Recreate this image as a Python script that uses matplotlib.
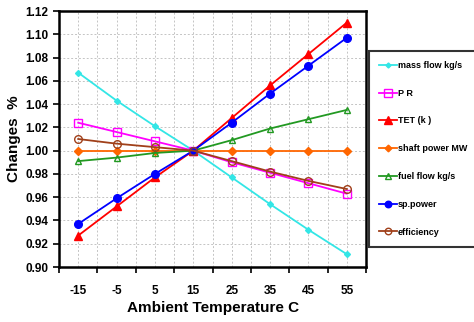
import matplotlib
matplotlib.use("Agg")
import matplotlib.pyplot as plt
from matplotlib.ticker import FixedLocator, NullFormatter

plt.rcParams['font.family'] = ['Liberation Sans', 'DejaVu Sans']
plt.rcParams['font.weight'] = 'bold'

temps = ["-15", "-5", "5", "15", "25", "35", "45", "55"]
mass_flow = [1.067, 1.043, 1.021, 1.000, 0.977, 0.954, 0.932, 0.911]
pr = [1.024, 1.016, 1.008, 1.000, 0.990, 0.981, 0.972, 0.963]
tet = [0.927, 0.952, 0.977, 1.000, 1.028, 1.056, 1.083, 1.110]
shaft_power = [1.000, 1.000, 1.000, 1.000, 1.000, 1.000, 1.000, 1.000]
fuel_flow = [0.991, 0.994, 0.998, 1.000, 1.009, 1.019, 1.027, 1.035]
sp_power = [0.937, 0.959, 0.980, 1.000, 1.024, 1.049, 1.073, 1.097]
efficiency = [1.010, 1.006, 1.003, 1.000, 0.991, 0.982, 0.974, 0.967]

series = [
    ("mass flow kg/s", mass_flow, dict(color="#33E6E6", marker="D", ms=3, mfc="#33E6E6")),
    ("P R", pr, dict(color="#FF00FF", marker="s", ms=6, mfc="none")),
    ("TET (k )", tet, dict(color="#FF0000", marker="^", ms=6, mfc="#FF0000")),
    ("shaft power MW", shaft_power, dict(color="#FF6600", marker="D", ms=4, mfc="#FF6600")),
    ("fuel flow kg/s", fuel_flow, dict(color="#229922", marker="^", ms=5, mfc="none")),
    ("sp.power", sp_power, dict(color="#0000FF", marker="o", ms=5.5, mfc="#0000FF")),
    ("efficiency", efficiency, dict(color="#A0401A", marker="o", ms=5.5, mfc="none")),
]

fig = plt.figure(figsize=(4.74, 3.22), dpi=100)
ax = fig.add_axes([59/474, 1-267/322, 307/474, 256/322])

x = list(range(len(temps)))
handles = []
for label, vals, st in series:
    h, = ax.plot(x, vals, lw=1.3, mew=1.0, label=label, **st)
    handles.append(h)

ax.set_xlim(-0.5, len(temps)-0.5)
ax.set_ylim(0.90, 1.12)
ax.set_yticks([0.90 + 0.02*i for i in range(12)])
ax.set_yticklabels([f"{0.90 + 0.02*i:.2f}" for i in range(12)])
ax.set_xticks(x)
ax.set_xticklabels(temps)
ax.xaxis.set_minor_locator(FixedLocator([i - 0.5 for i in range(len(temps)+1)]))
ax.xaxis.set_minor_formatter(NullFormatter())
ax.tick_params(axis='x', which='major', length=0, pad=13, labelsize=8.5)
ax.tick_params(axis='x', which='minor', length=4, width=1.2, direction='out')
ax.tick_params(axis='y', which='major', length=4, width=1.2, direction='out', labelsize=8.5)
for lab in ax.get_xticklabels() + ax.get_yticklabels():
    lab.set_fontweight('bold')

ax.grid(True, which='both', axis='x', linestyle=(0, (2, 2)), color='#C4C4C4', lw=0.7)
ax.grid(True, which='major', axis='y', linestyle=(0, (2, 2)), color='#C4C4C4', lw=0.7)
ax.set_axisbelow(True)
for sp in ax.spines.values():
    sp.set_linewidth(1.8)

fig.text(135/474 + 157/474/2, 1-308/322, "Ambient Temperature C", ha='center', va='center',
         fontsize=11, fontweight='bold')
fig.text(14/474, 1-139/322, "Changes  %", ha='center', va='center', rotation=90,
         fontsize=11, fontweight='bold')

leg = fig.legend(handles=handles, loc='upper left', bbox_to_anchor=(369/474, 1-51/322),
                 frameon=True, fancybox=False, edgecolor='black', fontsize=6.5,
                 labelspacing=2.08, handlelength=2.0, handletextpad=0.1, borderpad=1.1,
                 borderaxespad=0, markerscale=0.85)
leg.get_frame().set_linewidth(1.5)
for t in leg.get_texts():
    t.set_fontweight('bold')

fig.savefig("out.png", dpi=100)
